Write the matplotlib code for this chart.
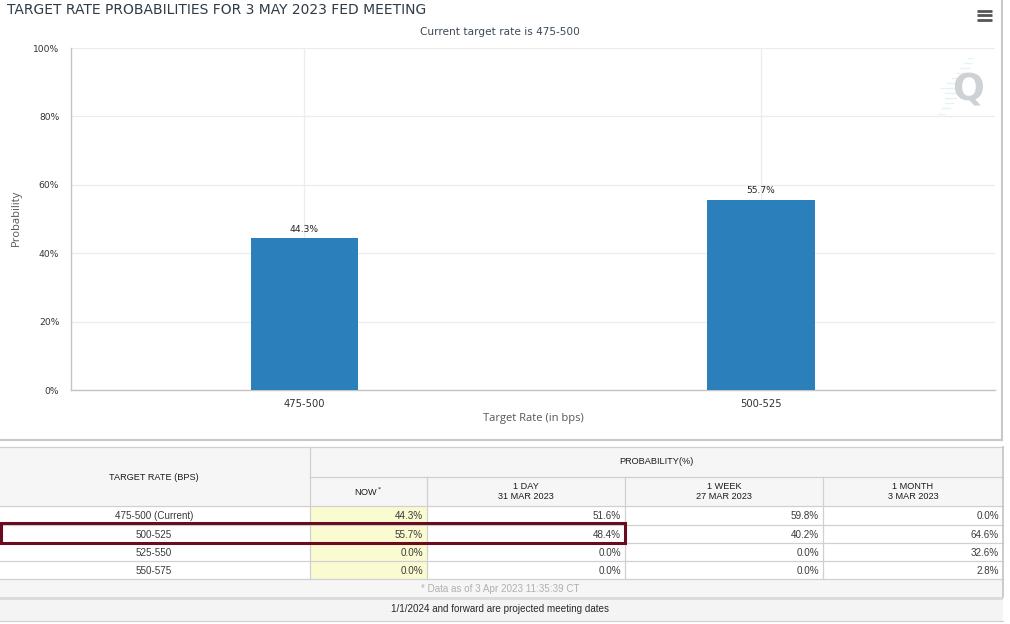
import matplotlib
matplotlib.use("Agg")
import matplotlib.pyplot as plt
from matplotlib.patches import Rectangle

W, H = 1010, 624
categories = ["475-500", "500-525"]
probabilities = [44.3, 55.7]
y_ticks = [0, 20, 40, 60, 80, 100]

row_labels = ["475-500 (Current)", "500-525", "525-550", "550-575"]
now_col = ["44.3%", "55.7%", "0.0%", "0.0%"]
day_col = ["51.6%", "48.4%", "0.0%", "0.0%"]
week_col = ["59.8%", "40.2%", "0.0%", "0.0%"]
month_col = ["0.0%", "64.6%", "32.6%", "2.8%"]
col_heads = ["NOW", "1 DAY\n31 MAR 2023", "1 WEEK\n27 MAR 2023", "1 MONTH\n3 MAR 2023"]

TXT = "#333333"
fig = plt.figure(figsize=(W / 100, H / 100), dpi=100, facecolor="white")

# Overlay in pixel coordinates for page furniture and the table
ov = fig.add_axes([0, 0, 1, 1], zorder=1)
ov.set_xlim(0, W)
ov.set_ylim(H, 0)
ov.axis("off")

# Chart
ax = fig.add_axes([71 / W, 1 - 390 / H, (995 - 71) / W, (390 - 48) / H], zorder=2)
ax.patch.set_alpha(0)
x = list(range(len(categories)))
bars = ax.bar(x, probabilities, width=0.2355, color="#2b7fba", zorder=3)
ax.set_xlim(-0.5115, 1.5126)
ax.set_ylim(0, 100)
ax.set_xticks(x, categories, fontsize=7.2, color=TXT)
ax.set_yticks(y_ticks, [f"{v}%" for v in y_ticks], fontsize=6.6, color=TXT)
ax.grid(True, color="#ececec", lw=0.9, zorder=0)
ax.set_axisbelow(True)
for s in ["top", "right"]:
    ax.spines[s].set_visible(False)
for s in ["left", "bottom"]:
    ax.spines[s].set_color("#c4c4c4")
    ax.spines[s].set_linewidth(1.0)
ax.tick_params(axis="x", length=0, pad=6.5)
ax.tick_params(axis="y", length=0, pad=8.5)
ax.set_xlabel("Target Rate (in bps)", fontsize=8, color="#555555", labelpad=3,
              family="Open Sans")
ax.set_ylabel("Probability", fontsize=8, color="#555555", family="Open Sans")
ax.yaxis.set_label_coords((22 - 71) / (995 - 71), 0.503)
for b, v in zip(bars, probabilities):
    ax.annotate(f"{v}%", (b.get_x() + b.get_width() / 2, v), xytext=(0, 3.4),
                textcoords="offset points", ha="center", va="bottom",
                fontsize=6.6, color="#222222")

# Titles
ov.text(7, 10, "TARGET RATE PROBABILITIES FOR 3 MAY 2023 FED MEETING", fontsize=10,
        color="#2f3b45", va="center", ha="left", family="DejaVu Sans")
ov.text(500, 32, "Current target rate is 475-500", fontsize=7.6, color="#3d4a57",
        va="center", ha="center", family="DejaVu Sans")

# Menu icon
for yy in (10.5, 15, 19.5):
    ov.plot([977, 992], [yy, yy], color="#555555", lw=2.0, solid_capstyle="butt")

# Watermark
ov.text(968, 90, "Q", fontsize=27, fontweight="bold", color="#cfd2d4", ha="center",
        va="center", family="DejaVu Sans")
for yy, x0, x1 in [(58, 968, 972), (63, 964, 971), (68, 960, 969), (73, 957, 967),
                   (78, 952, 964), (83, 947, 962), (88, 941, 958), (93, 945, 957),
                   (98, 945, 956), (103, 945, 953), (108, 942, 950), (114, 938, 944)]:
    ov.plot([x0, x1], [yy, yy], color="#e2f4f6", lw=0.9)

# Chart frame
GR = "#c8c8c8"
ov.plot([1002, 1002], [0, 440], color=GR, lw=1.5)
ov.plot([0, 1002], [440, 440], color=GR, lw=1.5)

# Table geometry
cols = [0, 310, 427, 625, 823, 1003]
rows = [506, 525, 543, 561, 579]
HB = "#f6f6f6"
LN = "#d0d0d0"
ov.add_patch(Rectangle((0, 447), 1003, 59, fc=HB, ec="none"))
ov.add_patch(Rectangle((0, 579), 1003, 18, fc=HB, ec="none"))
ov.add_patch(Rectangle((0, 597), 1003, 24, fc="#f4f4f4", ec="none"))
ov.add_patch(Rectangle((0, 597), 1003, 2.5, fc="#dcdcdc", ec="none"))
ov.add_patch(Rectangle((cols[1], 506), cols[2] - cols[1], 73, fc="#fbfbd2", ec="none"))
ov.plot([0, 1003], [447, 447], color=LN, lw=0.9)
ov.plot([310, 1003], [477, 477], color=LN, lw=0.9)
for yy in rows:
    ov.plot([0, 1003], [yy, yy], color=LN, lw=0.9)
ov.plot([0, 1003], [620.5, 620.5], color=LN, lw=0.9)
ov.plot([310, 310], [447, 579], color=LN, lw=0.9)
for xx in cols[2:5]:
    ov.plot([xx, xx], [477, 579], color=LN, lw=0.9)
ov.plot([1003, 1003], [447, 597], color="#c4c4c4", lw=1.2)

HF = dict(family="Liberation Sans", fontsize=6.6, va="center", color="#1c1c1c")
TF = dict(family="Liberation Sans", fontsize=7.1, va="center", color="#3a3a3a")
ov.text(154, 477, "TARGET RATE (BPS)", ha="center", **HF)
ov.text(656, 462, "PROBABILITY(%)", ha="center", **HF)
for i, h in enumerate(col_heads):
    cx = (cols[i + 1] + cols[i + 2]) / 2
    label = h + "$^*$" if i == 0 else h
    ov.text(cx, 491.5, label, ha="center", linespacing=1.15, **HF)
for i, lab in enumerate(row_labels):
    cy = (rows[i] + rows[i + 1]) / 2 + 0.5
    ov.text(154, cy, lab, ha="center", **TF)
    for j, col in enumerate((now_col, day_col, week_col, month_col)):
        ov.text(cols[j + 2] - 4, cy, col[i], ha="right", **TF)
ov.text(500, 588.5, "* Data as of 3 Apr 2023 11:35:39 CT", ha="center",
        family="Liberation Sans", fontsize=7.1, va="center", color="#b0b0b0")
ov.text(500, 609, "1/1/2024 and forward are projected meeting dates", ha="center",
        family="Liberation Sans", fontsize=7.1, va="center", color="#2a2a2a")

# Highlight box
ov.add_patch(Rectangle((1, 523), 623.5, 19.5, fc="none", ec="#6d0b1e", lw=2.2, zorder=5))

fig.savefig("out.png", dpi=100)
